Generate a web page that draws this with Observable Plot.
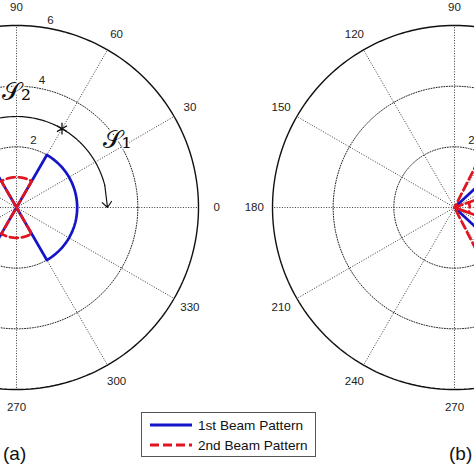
<!DOCTYPE html>
<html><head><meta charset="utf-8">
<script src="https://cdn.jsdelivr.net/npm/d3@7"></script>
<script src="https://cdn.jsdelivr.net/npm/@observablehq/plot@0.6"></script>
<style>
body{margin:0;background:#fff;}
#wrap{position:relative;width:474px;height:474px;overflow:hidden;font-family:"Liberation Sans",Arial,sans-serif;}
#legend{position:absolute;left:141px;top:412px;width:173px;height:43px;border:1px solid #555;background:#fff;}
.row{position:absolute;left:8px;display:flex;align-items:center;font-size:13.6px;color:#111;height:18px;font-family:"Liberation Sans",Arial,sans-serif;}
.row svg{margin-right:6px;}
.tag{position:absolute;top:442px;font-size:19px;line-height:24px;color:#111;}
</style></head><body><div id="wrap"></div>
<script>
// ---- data ----
const angleTicks = [0,30,60,90,120,150,180,210,240,270,300,330];
const radialTicks = [2,4,6];
const rMax = 6;
// angle labels that fall inside the picture for each panel
const anglesShownA = [0,30,60,90,270,300,330];
const anglesShownB = [90,120,150,180,210,240,270];
const radialShownA = [2,4,6];
const radialShownB = [2];
// beam patterns as sectors: angle from, angle to (deg), radius
const beam1A = [{a0:-60,a1:60,r:2},{a0:120,a1:240,r:2}];
const beam2A = [{a0:60,a1:120,r:1},{a0:240,a1:300,r:1}];
const beam1B = [{a0:-43,a1:43,r:1.8}];
const beam2B = [{a0:20,a1:63,r:2.2},{a0:-20,a1:20,r:0.5},{a0:-63,a1:-20,r:2.2}];
// annotation in panel (a)
const annotArcs = [{a0:60,a1:14,r:3},{a0:60,a1:178,r:3}];
const annotArrow = [{a0:14,a1:0,r:3}];
const starPoint = [{a:60,r:3}];
const annotLabels = [{text:"𝒮₁",a:34,r:4.0},{text:"𝒮₂",a:90,r:3.8}];
const legendLabels = ["1st Beam Pattern","2nd Beam Pattern"];
const panelTags = ["(a)","(b)"];

// ---- layout ----
const W=474,H=474;
const k=182/rMax;           // px per radial unit
const cxPx=16, cyPx=207;    // panel (a) center
const offB=438/k;           // panel (b) center offset
const xDomain=[-cxPx/k,(W-cxPx)/k], yDomain=[-(H-cyPx)/k,cyPx/k];
const rad=d=>d*Math.PI/180;
const pt=(a,r,cx)=>({x:cx+r*Math.cos(rad(a)),y:r*Math.sin(rad(a))});
function arcPts(a0,a1,r,cx,key,n=90){const o=[];for(let i=0;i<=n;i++){const p=pt(a0+(a1-a0)*i/n,r,cx);p.key=key;o.push(p);}return o;}
function sectorPath(sectors,cx){const o=[pt(0,0,cx)];for(const s of sectors){o.push(...arcPts(s.a0,s.a1,s.r,cx,""));o.push(pt(0,0,cx));}return o;}

const centers=[0,offB];
const shownAng=[anglesShownA,anglesShownB], shownRad=[radialShownA,radialShownB];
const spokes=[],rings=[],outer=[],angLabels=[],radLabels=[];
centers.forEach((cx,i)=>{
  angleTicks.forEach(a=>{const p1=pt(a,0,cx),p2=pt(a,rMax,cx);spokes.push({x1:p1.x,y1:p1.y,x2:p2.x,y2:p2.y});
    if(shownAng[i].includes(a)){const l=pt(a,rMax+0.6,cx);angLabels.push({...l,text:String(a)});}});
  radialTicks.forEach(r=>{const pts=arcPts(0,360,r,cx,i+"-"+r,240);(r<rMax?rings:outer).push(...pts);
    if(shownRad[i].includes(r)){const c82=Math.cos(rad(82)),s82=Math.sin(rad(82));radLabels.push({x:cx+(r+0.1)*c82,y:(r+0.1)*s82,text:String(r)});}});
});
const arcs=annotArcs.flatMap((s,i)=>arcPts(s.a0,s.a1,s.r,0,"s"+i));
const arrows=annotArrow.map(s=>{const p=pt(s.a0,s.r,0),q=pt(s.a1,s.r,0);return {x1:p.x,y1:p.y,x2:q.x,y2:q.y};});
const stars=starPoint.map(d=>pt(d.a,d.r,0));
const slabels=annotLabels.map(d=>({...pt(d.a,d.r,0),text:d.text}));
const blue="#1414c8", red="#e01520";

const chart=Plot.plot({
  width:W,height:H,margin:0,
  x:{domain:xDomain,axis:null},y:{domain:yDomain,axis:null},
  style:{fontFamily:"'Liberation Sans',Arial,sans-serif",background:"#fff"},
  marks:[
    Plot.link(spokes,{x1:"x1",y1:"y1",x2:"x2",y2:"y2",stroke:"#222",strokeWidth:0.9,strokeDasharray:"1,1.6"}),
    Plot.line(rings,{x:"x",y:"y",z:"key",stroke:"#222",strokeWidth:1,strokeDasharray:"1,1.6"}),
    Plot.line(outer,{x:"x",y:"y",z:"key",stroke:"#111",strokeWidth:1.4}),
    Plot.text(angLabels,{x:"x",y:"y",text:"text",fontSize:11.5,fill:"#222"}),
    Plot.text(radLabels,{x:"x",y:"y",text:"text",fontSize:11.5,fill:"#222",textAnchor:"start",lineAnchor:"bottom",dx:5}),
    Plot.line(arcs,{x:"x",y:"y",z:"key",stroke:"#111",strokeWidth:1.2}),
    Plot.arrow(arrows,{x1:"x1",y1:"y1",x2:"x2",y2:"y2",stroke:"#111",strokeWidth:1.2,headLength:9,headAngle:80}),
    Plot.dot(stars,{x:"x",y:"y",symbol:"asterisk",r:5.5,stroke:"#111",strokeWidth:1.3}),
    Plot.text(slabels,{x:"x",y:"y",text:"text",fontSize:25,fill:"#111",fontFamily:"'DejaVu Serif','DejaVu Sans',serif",stroke:"#fff",strokeWidth:3}),
    Plot.line(sectorPath(beam1A,0),{x:"x",y:"y",stroke:blue,strokeWidth:2.7}),
    Plot.line(sectorPath(beam1B,offB),{x:"x",y:"y",stroke:blue,strokeWidth:2.7}),
    Plot.line(sectorPath(beam2A,0),{x:"x",y:"y",stroke:red,strokeWidth:2.7,strokeDasharray:"8,4"}),
    Plot.line(sectorPath(beam2B,offB),{x:"x",y:"y",stroke:red,strokeWidth:2.7,strokeDasharray:"8,4"})
  ]
});
const wrap=document.getElementById("wrap");
wrap.appendChild(chart);
chart.style.position="absolute";chart.style.left="0";chart.style.top="0";
const leg=document.createElement("div");leg.id="legend";
const styles=[{c:blue,d:"none"},{c:red,d:"9,4"}];
legendLabels.forEach((t,i)=>{
  const row=document.createElement("div");row.className="row";row.style.top=(3+i*20)+"px";
  row.innerHTML=`<svg width="42" height="6"><line x1="0" y1="3" x2="42" y2="3" stroke="${styles[i].c}" stroke-width="3" stroke-dasharray="${styles[i].d}"/></svg>`;
  const tx=document.createElement("span");tx.textContent=t;row.appendChild(tx);leg.appendChild(row);
});
wrap.appendChild(leg);
panelTags.forEach((t,i)=>{const d=document.createElement("div");d.className="tag";d.textContent=t;
  d.style.left=(i===0?3:449)+"px";wrap.appendChild(d);});
</script></body></html>
